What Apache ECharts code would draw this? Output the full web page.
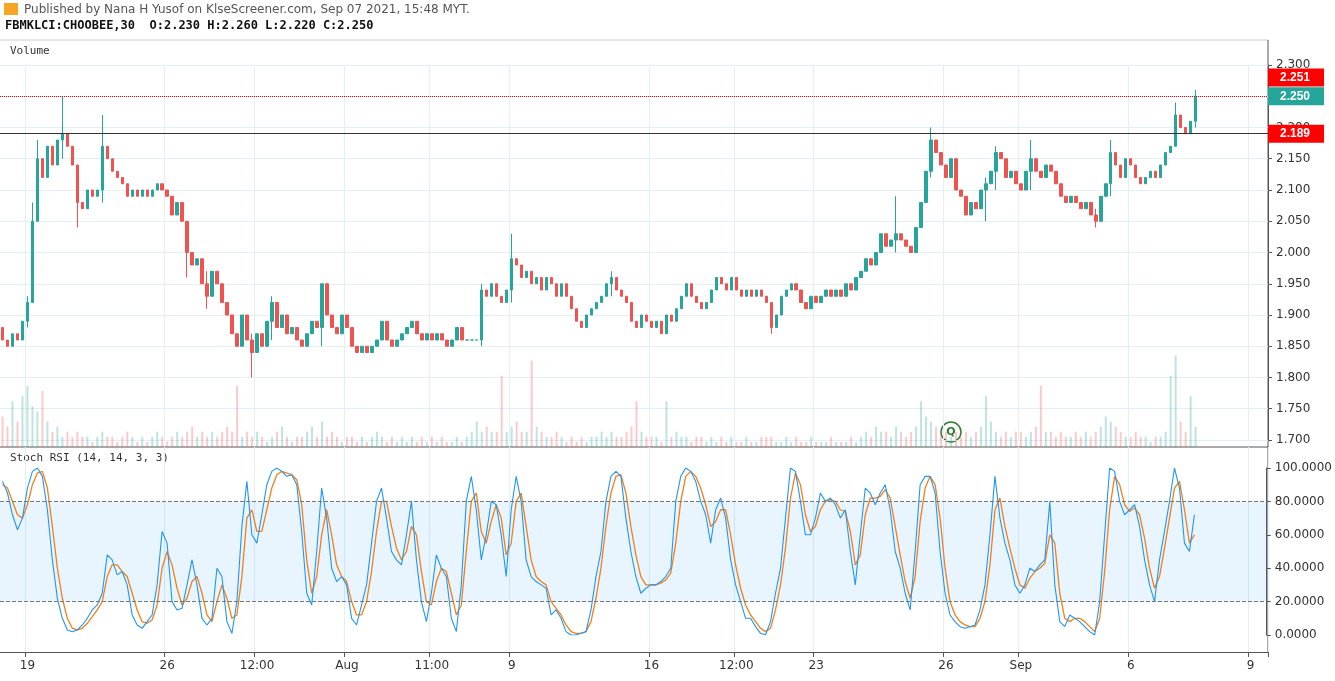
<!DOCTYPE html>
<html><head><meta charset="utf-8">
<script src="https://cdn.jsdelivr.net/npm/echarts@6/dist/echarts.min.js"></script>
<style>html,body{margin:0;padding:0;background:#fff}#c{width:1335px;height:681px}</style>
</head><body><div id="c"></div>
<script>
const closes=[1.86,1.85,1.87,1.86,1.89,1.92,2.05,2.15,2.12,2.17,
2.14,2.18,2.19,2.17,2.14,2.08,2.07,2.10,2.09,2.10,
2.17,2.15,2.13,2.12,2.11,2.09,2.10,2.09,2.10,2.09,
2.10,2.11,2.10,2.09,2.06,2.08,2.05,2.00,1.98,1.99,
1.95,1.93,1.97,1.95,1.92,1.90,1.87,1.85,1.90,1.86,
1.84,1.87,1.85,1.89,1.92,1.88,1.90,1.87,1.88,1.86,
1.85,1.87,1.89,1.88,1.95,1.90,1.88,1.87,1.90,1.88,
1.85,1.84,1.85,1.84,1.85,1.86,1.89,1.86,1.85,1.86,
1.87,1.88,1.89,1.87,1.86,1.87,1.86,1.87,1.86,1.85,
1.86,1.88,1.86,1.86,1.86,1.86,1.94,1.93,1.95,1.93,
1.92,1.94,1.99,1.98,1.96,1.97,1.95,1.96,1.94,1.96,
1.95,1.93,1.95,1.93,1.91,1.89,1.88,1.90,1.91,1.92,
1.93,1.95,1.96,1.94,1.93,1.92,1.89,1.88,1.90,1.89,
1.88,1.89,1.87,1.90,1.89,1.91,1.93,1.95,1.93,1.92,
1.91,1.92,1.94,1.96,1.95,1.94,1.96,1.94,1.93,1.94,
1.93,1.94,1.93,1.92,1.88,1.90,1.93,1.94,1.95,1.94,
1.92,1.91,1.93,1.92,1.93,1.94,1.93,1.94,1.93,1.95,
1.94,1.96,1.97,1.99,1.98,2.00,2.03,2.01,2.02,2.03,
2.02,2.01,2.00,2.04,2.08,2.13,2.18,2.16,2.14,2.12,
2.15,2.10,2.09,2.06,2.08,2.07,2.10,2.11,2.13,2.16,
2.15,2.12,2.13,2.11,2.10,2.13,2.15,2.13,2.12,2.14,
2.13,2.11,2.09,2.08,2.09,2.08,2.07,2.08,2.06,2.05,
2.09,2.11,2.16,2.14,2.12,2.15,2.14,2.12,2.11,2.12,
2.13,2.12,2.14,2.16,2.17,2.22,2.20,2.19,2.21,2.25];
const firstOpen=1.88;
const wicks={5:[1.88,1.93],6:[1.98,2.08],7:[2.10,2.18],12:[2.15,2.25],15:[2.04,2.10],20:[2.08,2.22],37:[1.96,2.02],41:[1.91,1.97],50:[1.80,1.87],54:[1.86,1.93],64:[1.85,1.95],96:[1.85,1.95],102:[1.92,2.03],122:[1.93,1.97],154:[1.87,1.92],179:[2.00,2.09],186:[2.12,2.20],197:[2.05,2.12],199:[2.10,2.17],206:[2.10,2.18],219:[2.04,2.07],222:[2.09,2.18],235:[2.17,2.24],239:[2.20,2.26]};
const volumes=[6,4,9,5,10,12,8,7,11,5,
3,4,2,3,2,3,2,2,1,2,
3,2,2,1,2,3,2,1,2,1,
2,3,2,1,2,3,2,3,4,2,
3,2,3,2,3,4,3,12,2,3,
2,3,2,1,2,3,4,2,1,2,
2,3,4,2,5,2,3,2,1,2,
2,1,2,1,2,3,2,1,2,1,
2,1,2,1,2,1,2,1,2,1,
1,2,1,2,3,5,3,4,3,3,
14,3,4,5,3,3,17,4,3,2,
2,3,2,1,2,1,2,1,2,2,
3,2,3,2,2,3,4,9,3,2,
2,2,1,9,2,3,2,2,1,2,
2,1,2,1,2,1,2,1,1,2,
1,1,2,2,2,1,1,2,1,2,
1,1,2,1,1,1,2,1,1,1,
2,1,2,3,2,4,3,3,2,4,
3,2,3,4,9,6,5,4,3,3,
2,3,2,3,2,3,4,10,5,3,
2,3,2,3,3,2,3,4,12,3,
3,2,3,2,2,3,2,3,2,3,
4,6,5,4,3,2,2,3,2,2,
1,2,2,3,14,18,5,3,10,4];
const stochK=[92,85,72,63,70,88,98,100,95,75,
45,22,10,3,2,3,6,10,15,18,
25,48,45,36,38,30,12,6,4,8,
12,30,62,55,20,15,16,30,45,30,
10,6,10,40,35,8,1,20,65,92,
60,55,72,90,98,100,98,95,96,90,
62,25,18,50,88,70,40,32,35,30,
10,6,18,30,55,80,88,70,50,45,
42,60,80,45,20,8,25,48,40,35,
10,2,30,80,95,75,45,60,80,78,
60,35,75,95,80,45,35,32,30,28,
12,15,10,2,0,0,1,2,15,35,
50,80,95,98,95,70,50,35,25,28,
30,30,32,35,40,80,95,100,98,92,
80,72,55,75,82,70,45,30,20,10,
10,5,1,0,8,25,40,70,100,98,
80,60,60,70,85,80,82,78,70,75,
50,30,60,88,85,78,85,90,75,50,
40,25,15,50,90,95,95,85,50,25,
12,8,5,4,5,6,15,30,60,95,
70,55,45,30,25,30,40,38,42,45,
80,30,8,5,12,10,8,5,2,0,
20,60,100,98,80,72,75,78,65,45,
30,20,45,62,80,100,88,55,50,72];
const stochD=[90,88,80,72,70,78,90,97,98,88,
65,40,22,10,4,3,4,7,11,15,
20,35,42,42,38,35,25,15,8,7,
9,18,40,50,42,28,18,22,32,35,
25,12,8,20,30,22,10,12,35,70,
75,62,62,75,88,96,98,97,96,93,
78,45,25,35,60,75,60,42,35,32,
20,12,12,20,38,62,80,80,65,52,
45,50,65,60,38,20,18,32,40,38,
25,12,18,50,80,85,62,55,68,78,
70,48,55,80,85,65,45,35,32,30,
20,16,12,6,2,1,1,2,8,22,
40,65,85,95,96,85,65,48,35,30,
30,30,31,33,37,55,80,95,98,95,
88,78,65,68,75,75,60,42,28,18,
12,8,4,2,4,15,30,52,82,97,
90,72,62,65,75,80,81,80,75,74,
62,42,48,72,82,82,83,87,82,65,
48,32,22,35,68,88,95,90,70,40,
20,12,8,6,5,5,10,20,42,75,
82,65,52,40,30,28,34,38,40,43,
60,55,25,10,8,10,10,8,5,2,
10,38,75,95,90,78,74,76,72,58,
40,28,35,52,70,88,92,75,55,60];
const tickLabels={5:'19',33:'26',51:'12:00',69:'Aug',86:'11:00',102:'9',130:'16',147:'12:00',163:'23',189:'26',204:'Sep',226:'6',250:'9'};
const TOTAL=254;

const cats=[];for(let i=0;i<TOTAL;i++)cats.push(i);
const UP='#26a69a',DN='#ef5350';
const candles=closes.map((c,i)=>{const o=i?closes[i-1]:firstOpen;let lo=Math.min(o,c),hi=Math.max(o,c);if(wicks[i]){lo=Math.min(lo,wicks[i][0]);hi=Math.max(hi,wicks[i][1]);}return [o,c,lo,hi];});
const vol=volumes.map((v,i)=>({value:v,itemStyle:{color:candles[i][1]>=candles[i][0]?'rgba(38,166,154,0.3)':'rgba(239,83,80,0.3)'}}));
const isTick=(i)=>tickLabels[i]!==undefined;
const gridX={show:true,interval:isTick,lineStyle:{color:'#e3eef6'}};
const baseX=(g,showLabel,split)=>({type:'category',gridIndex:g,data:cats,boundaryGap:true,
 axisLine:{show:showLabel,lineStyle:{color:'#555'}},axisTick:{show:showLabel,interval:isTick,lineStyle:{color:'#555'}},
 axisLabel:{show:showLabel,interval:isTick,formatter:v=>tickLabels[v]||'',color:'#333',fontSize:12,fontFamily:'DejaVu Sans',margin:8},
 splitLine:split?gridX:{show:false}});
const boxLabel=(txt,bg)=>({position:'end',formatter:txt,backgroundColor:bg,color:'#fff',fontWeight:'bold',fontSize:12,padding:[3,14,3,12],distance:0});
const ch=echarts.init(document.getElementById('c'));
ch.setOption({animation:false,
 grid:[{left:0,right:67,top:65,bottom:241},{left:0,right:67,top:40,bottom:234},{left:0,right:67,top:468,bottom:46},{left:0,right:67,top:447,bottom:29}],
 xAxis:[baseX(0,false,true),baseX(1,false,false),baseX(2,false,false),baseX(3,true,true)],
 yAxis:[{type:'value',gridIndex:0,position:'right',min:1.7,max:2.3,interval:0.05,
   axisLine:{show:true,lineStyle:{color:'#555'}},axisTick:{show:true,length:4},
   axisLabel:{color:'#333',fontSize:12,fontFamily:'DejaVu Sans',formatter:v=>v.toFixed(3),margin:8},
   splitLine:{show:true,lineStyle:{color:'#e3eef6'}}},
  {type:'value',gridIndex:1,min:0,max:80,show:false,splitLine:{show:false}},
  {type:'value',gridIndex:2,position:'right',min:0,max:100,interval:20,
   axisLine:{show:true,lineStyle:{color:'#555'}},axisTick:{show:true,length:4},
   axisLabel:{color:'#333',fontSize:12,fontFamily:'DejaVu Sans',formatter:v=>v.toFixed(4),margin:8},
   splitLine:{show:false}},
  {type:'value',gridIndex:3,show:false,splitLine:{show:false}}],
 series:[
  {type:'bar',xAxisIndex:1,yAxisIndex:1,data:vol,barWidth:2},
  {type:'candlestick',xAxisIndex:0,yAxisIndex:0,data:candles,barWidth:3,
   itemStyle:{color:UP,color0:DN,borderColor:UP,borderColor0:DN,borderWidth:1},
   markLine:{symbol:'none',silent:true,animation:false,data:[
     {yAxis:2.25,lineStyle:{color:'#e00',type:'dotted',width:1},label:boxLabel('2.250',UP)},
     {yAxis:2.189,lineStyle:{color:'#333',type:'solid',width:1},label:boxLabel('2.189','#f00')},
     {yAxis:2.28,lineStyle:{color:'rgba(0,0,0,0)'},label:boxLabel('2.251','#f00')}]}},
  {type:'line',xAxisIndex:2,yAxisIndex:2,data:stochD,showSymbol:false,lineStyle:{color:'#f57f17',width:1.3},z:3},
  {type:'line',xAxisIndex:2,yAxisIndex:2,data:stochK,showSymbol:false,lineStyle:{color:'#2196f3',width:1.1},z:4,
   markArea:{silent:true,itemStyle:{color:'rgba(33,150,243,0.1)'},data:[[{yAxis:20,x:0},{yAxis:80,x:1268}]]},
   markLine:{symbol:'none',silent:true,label:{show:false},lineStyle:{color:'#777',type:'dashed',width:1},data:[{yAxis:20},{yAxis:80}]}}],
 graphic:[
  {type:'rect',shape:{x:4,y:3,width:14,height:12},style:{fill:'#f5a623'}},
  {type:'text',left:24,top:4,style:{text:'Published by Nana H Yusof on KlseScreener.com, Sep 07 2021, 15:48 MYT.',fill:'#555',font:'12px DejaVu Sans'}},
  {type:'text',left:5,top:20,style:{text:'FBMKLCI:CHOOBEE,30  O:2.230 H:2.260 L:2.220 C:2.250',fill:'#111',font:'bold 12px DejaVu Sans Mono'}},
  {type:'line',shape:{x1:0,y1:40,x2:1268,y2:40},style:{stroke:'#ccc'}},
  {type:'line',shape:{x1:1268,y1:40,x2:1268,y2:652},style:{stroke:'#555'}},
  {type:'line',shape:{x1:0,y1:447,x2:1268,y2:447},style:{stroke:'#555'}},
  {type:'text',left:10,top:46,style:{text:'Volume',fill:'#333',font:'11px DejaVu Sans Mono'}},
  {type:'text',left:10,top:453,style:{text:'Stoch RSI (14, 14, 3, 3)',fill:'#333',font:'11px DejaVu Sans Mono'}},
  {type:'circle',shape:{cx:951,cy:432,r:10},style:{fill:'#fff',stroke:'#2e7d32',lineWidth:1.5}},
  {type:'text',x:951,y:432,style:{text:'Q',fill:'#2e7d32',font:'bold 11px DejaVu Sans',align:'center',verticalAlign:'middle'}}]
});
</script></body></html>
